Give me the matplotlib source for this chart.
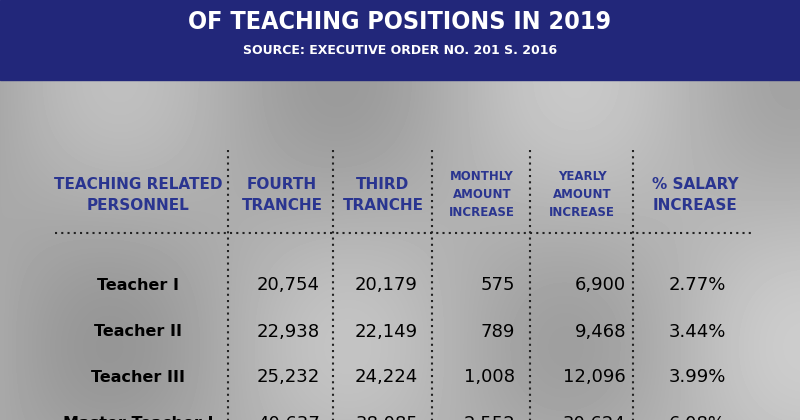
import matplotlib.pyplot as plt
import numpy as np

plt.rcParams['font.family'] = ['DejaVu Sans']

# 表格数据
title = 'OF TEACHING POSITIONS IN 2019'
source = 'SOURCE: EXECUTIVE ORDER NO. 201 S. 2016'
headers = ['TEACHING RELATED\nPERSONNEL', 'FOURTH\nTRANCHE', 'THIRD\nTRANCHE',
           'MONTHLY\nAMOUNT\nINCREASE', 'YEARLY\nAMOUNT\nINCREASE', '% SALARY\nINCREASE']
positions = ['Teacher I', 'Teacher II', 'Teacher III', 'Master Teacher I']
fourth = ['20,754', '22,938', '25,232', '40,637']
third = ['20,179', '22,149', '24,224', '38,085']
monthly = ['575', '789', '1,008', '2,552']
yearly = ['6,900', '9,468', '12,096', '30,624']
pct = ['2.77%', '3.44%', '3.99%', '6.08%']

fig = plt.figure(figsize=(8, 4.2), dpi=100)
ax = fig.add_axes([0, 0, 1, 1])
ax.set_xlim(0, 800)
ax.set_ylim(420, 0)
ax.axis('off')

# 灰色背景（模拟照片）
xx = np.linspace(0, 1, 800)[None, :]
yy = np.linspace(0, 1, 340)[:, None]
bg = 0.66 + 0.08 * np.sin(xx * 11) * np.cos(yy * 4) + 0.06 * xx
ax.imshow(bg, cmap='gray', vmin=0, vmax=1, extent=[0, 800, 420, 80], aspect='auto', zorder=0)

ax.add_patch(plt.Rectangle((0, 0), 800, 80, color='#22277a', zorder=1))
ax.text(400, 22, title, color='white', fontsize=18, fontweight='bold', ha='center', va='center',
        fontstretch='condensed', zorder=2)
ax.text(400, 50, source, color='white', fontsize=9, fontweight='bold', ha='center', va='center', zorder=2)

head_x = [138, 282, 383, 482, 582, 695]
head_sizes = [11, 11, 11, 8.5, 8.5, 11]
for x, h, s in zip(head_x, headers, head_sizes):
    ax.text(x, 195, h, color='#2a3590', fontsize=s, fontweight='bold', ha='center', va='center',
            linespacing=1.5, zorder=2)

ax.plot([55, 755], [233, 233], ls=(0, (1, 2)), color='#222222', lw=1.5, zorder=2)
for x in [228, 333, 432, 530, 633]:
    ax.plot([x, x], [150, 420], ls=(0, (1, 2)), color='#222222', lw=1.5, zorder=2)

row_y = [285, 332, 377, 424]
for i, y in enumerate(row_y):
    ax.text(138, y, positions[i], fontsize=11.5, fontweight='bold', ha='center', va='center', color='black', zorder=2)
    for x, col in zip([320, 418, 515, 626], [fourth, third, monthly, yearly]):
        ax.text(x, y, col[i], fontsize=13, ha='right', va='center', color='black', zorder=2)
    ax.text(697, y, pct[i], fontsize=13, ha='center', va='center', color='black', zorder=2)

fig.savefig('out.png', dpi=100)
